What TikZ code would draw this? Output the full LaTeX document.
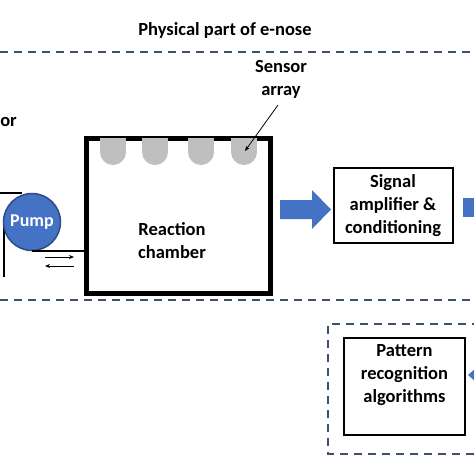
\documentclass[tikz,border=0pt]{standalone}
\usepackage{fontspec}
\setmainfont{Carlito}
\usetikzlibrary{arrows.meta}
\definecolor{dashc}{HTML}{3E5170}
\definecolor{bluef}{HTML}{4472C4}
\definecolor{bluel}{HTML}{2F4B80}
\definecolor{sens}{HTML}{BFBFBF}
\tikzset{
  lbl/.style={font=\bfseries\fontsize{18.5}{23}\selectfont, align=center, inner sep=0pt},
  dashline/.style={draw=dashc, line width=1.8pt, dash pattern=on 8pt off 6pt},
  box/.style={draw=black, line width=2.6pt, fill=white},
  blockarrow/.style={fill=bluef},
  pipe/.style={draw=black, line width=1.6pt},
  thinarrow/.style={draw=black, line width=0.8pt, -{Stealth[length=5pt,width=4pt]}},
}
\begin{document}
\begin{tikzpicture}[x=1pt,y=-1pt]
\useasboundingbox (0,0) rectangle (474,474);
\clip (0,0) rectangle (474,474);
% title and dashed separators
\node[lbl] (title) at (225,30) {Physical part of e-nose};
\draw[dashline] (0,52) -- (474,52);
\draw[dashline] (0,300) -- (474,300);
% partial label
\node[lbl, anchor=east] (odor) at (17,122) {or};
% pump pipes
\coordinate (p1) at (0,193);
\coordinate (p2) at (22,193);
\coordinate (p3) at (4,218);
\coordinate (p4) at (4,277);
\draw[pipe] (p1) -- (p2);
\draw[pipe] (p3) -- (p4);
% reaction chamber
\node[box, line width=5pt, minimum width=184pt, minimum height=155pt, anchor=north west] (chamber) at (83.5,135.5) {};
\node[lbl] (chtext) at (172,241) {Reaction\\chamber};
% sensors
\foreach \sx/\nm in {100/s1,142/s2,188/s3,231/s4}{
  \fill[sens] (\sx,138) rectangle (\sx+26,152);
  \fill[sens] (\sx+13,152) circle (13);
  \coordinate (\nm) at (\sx+14,151);
}
% pump
\node[circle, fill=bluef, draw=bluel, line width=1.5pt, minimum size=57pt, inner sep=0pt, font=\bfseries\fontsize{18}{20}\selectfont, text=white] (pump) at (32,222) {Pump};
\coordinate (pb) at (32,251);
\draw[pipe] (pb) -- (chamber.west |- pb);
\coordinate (a1s) at (45,257);
\coordinate (a1e) at (74,257);
\coordinate (a2s) at (74,266);
\coordinate (a2e) at (45,266);
\draw[thinarrow] (a1s) -- (a1e);
\draw[thinarrow] (a2s) -- (a2e);
% sensor array label
\node[lbl] (sa) at (281,79) {Sensor\\array};
\coordinate (saf) at (278,105);
\draw[thinarrow] (saf) -- (s4);
% signal box
\node[box, line width=2.6pt, minimum width=119pt, minimum height=75pt] (sig) at (393.5,205.5) {};
\node[lbl] (sigtext) at (393,206) {Signal\\amplifier \&\\conditioning};
% blue block arrows
\fill[blockarrow] (280,200) -- (312,200) -- (312,190) -- (331,209.5) -- (312,229) -- (312,219) -- (280,219) -- cycle;
\fill[blockarrow] (463,198) rectangle (476,217);
% lower dashed box
\draw[dashline] (480,324) -- (328,324) -- (328,454) -- (480,454);
\node[box, line width=2.6pt, minimum width=121pt, minimum height=97pt] (pat) at (404.5,386.5) {};
\node[lbl] (pattext) at (404.5,375) {Pattern\\recognition\\algorithms};
\fill[blockarrow] (468,375) -- (476,368) -- (476,382) -- cycle;
\end{tikzpicture}
\end{document}
